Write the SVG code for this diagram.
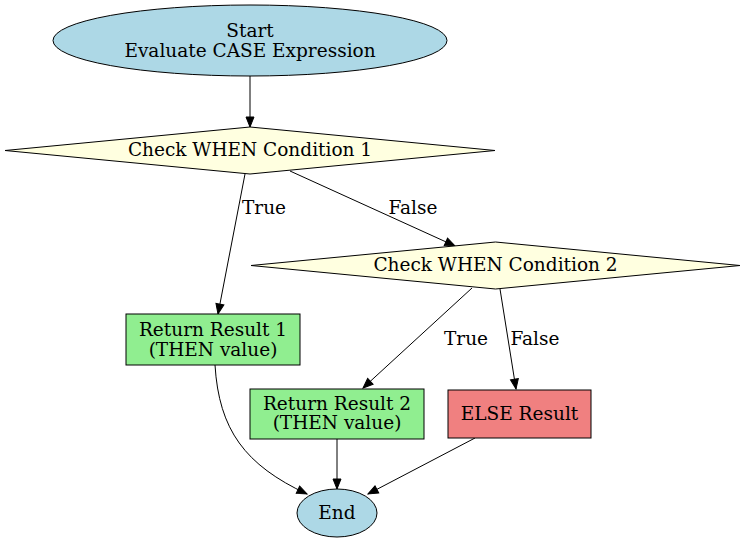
<svg xmlns="http://www.w3.org/2000/svg" width="746" height="542" viewBox="0 0 746 542">
<defs>
<marker id="ah" markerUnits="userSpaceOnUse" markerWidth="12" markerHeight="10" refX="10" refY="4" orient="auto" overflow="visible">
<path d="M0,0 L10,4 L0,8 Z" fill="#000" stroke="#000" stroke-width="1"/>
</marker>
</defs>
<style>
text{font-family:"DejaVu Serif","Liberation Serif",serif;font-size:18.5px;fill:#000;text-anchor:middle}
.n{stroke:#000;stroke-width:1}
.e{fill:none;stroke:#000;stroke-width:1;marker-end:url(#ah)}
</style>
<rect width="746" height="542" fill="#fff"/>
<g id="connectors">
<path class="e" d="M250,76 L250,127"/>
<path class="e" d="M245,174 L218,314"/>
<path class="e" d="M290,171 L455,246"/>
<path class="e" d="M472,288 L363,388"/>
<path class="e" d="M500,289 L516,389"/>
<path class="e" d="M215,365 C219,430 245,465 307,494"/>
<path class="e" d="M337,439 L337,489"/>
<path class="e" d="M475,438 L368,494"/>
<text x="264" y="213.5">True</text>
<text x="413" y="213.5">False</text>
<text x="466" y="344.5">True</text>
<text x="535" y="344.5">False</text>
</g>
<g id="start">
<ellipse class="n" cx="250" cy="40.5" rx="197" ry="35.5" fill="#add8e6"/>
<text x="250" y="36.5">Start</text>
<text x="250" y="56.5">Evaluate CASE Expression</text>
</g>
<g id="cond1">
<polygon class="n" points="250,127 495,150.5 250,174 5,150.5" fill="#ffffe0"/>
<text x="250" y="155.5">Check WHEN Condition 1</text>
</g>
<g id="cond2">
<polygon class="n" points="495.5,242 740,265.5 495.5,289 251,265.5" fill="#ffffe0"/>
<text x="495.5" y="270.5">Check WHEN Condition 2</text>
</g>
<g id="result1">
<rect class="n" x="126" y="314" width="174" height="51" fill="#90ee90"/>
<text x="213" y="335.5">Return Result 1</text>
<text x="213" y="355.5">(THEN value)</text>
</g>
<g id="result2">
<rect class="n" x="250" y="389" width="174" height="50" fill="#90ee90"/>
<text x="337" y="409.5">Return Result 2</text>
<text x="337" y="428.5">(THEN value)</text>
</g>
<g id="else">
<rect class="n" x="448" y="390" width="143" height="48" fill="#f08080"/>
<text x="519.5" y="419.5">ELSE Result</text>
</g>
<g id="end">
<ellipse class="n" cx="337" cy="513" rx="40" ry="24" fill="#add8e6"/>
<text x="337" y="518.5">End</text>
</g>
</svg>
